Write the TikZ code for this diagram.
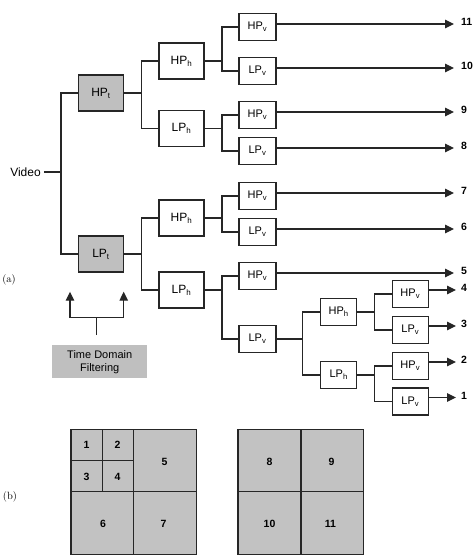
\documentclass[tikz,border=0pt]{standalone}
\usepackage{fontspec}
\setsansfont{Liberation Sans}
\usetikzlibrary{arrows.meta}
\begin{document}
\begin{tikzpicture}[x=1pt,y=-1pt,
  box/.style={draw=black!85, line width=1.15pt, fill=white, minimum width=45pt, minimum height=36pt, inner sep=0pt, font=\sffamily\fontsize{12}{14}\selectfont},
  gbox/.style={box, fill=gray!50},
  sbox/.style={box, minimum width=37pt, minimum height=27pt, font=\sffamily\fontsize{11}{13}\selectfont},
  tbox/.style={box, minimum width=36pt, minimum height=27pt, font=\sffamily\fontsize{11}{13}\selectfont},
  conn/.style={draw=black!85, line width=1.15pt},
  arr/.style={conn, -{Triangle[length=9pt,width=8.5pt]}},
  num/.style={font=\sffamily\bfseries\fontsize{10.5}{12}\selectfont, anchor=west, inner sep=0pt},
  sqnum/.style={font=\sffamily\bfseries\fontsize{10.5}{12}\selectfont, inner sep=0pt},
  sqbox/.style={draw=black!85, line width=1.15pt, fill=gray!48},
  plaintxt/.style={font=\sffamily\fontsize{12}{14}\selectfont, inner sep=0pt},
  captxt/.style={font=\rmfamily\fontsize{10.5}{12}\selectfont, inner sep=0pt}]
\useasboundingbox (0,0) rectangle (474,555);

% captions
\node[captxt] (capa) at (9,280) {(a)};
\node[captxt] (capb) at (10,497) {(b)};

% input
\node[plaintxt] (video) at (25.5,172) {Video};
\coordinate (fv) at (61,172);
\node[gbox] (hpt) at (101,93) {HP\textsubscript{t}};
\node[gbox] (lpt) at (101,254) {LP\textsubscript{t}};
\draw[conn] ([xshift=3pt]video.east) -- (fv);
\draw[conn] (hpt.west) -| (fv) |- (lpt.west);

% horizontal level
\node[box] (hph1) at (181.5,61) {HP\textsubscript{h}};
\node[box] (lph1) at (181.5,128.5) {LP\textsubscript{h}};
\node[box] (hph2) at (181.5,218) {HP\textsubscript{h}};
\node[box] (lph2) at (181.5,290) {LP\textsubscript{h}};
\coordinate (f1) at (141.7,93);
\coordinate (f2) at (141.7,254);
\draw[conn] (hpt.east) -- (f1);
\draw[conn] (hph1.west) -| (f1) |- (lph1.west);
\draw[conn] (lpt.east) -- (f2);
\draw[conn] (hph2.west) -| (f2) |- (lph2.west);

% vertical level
\node[sbox] (v11) at (257.5,27) {HP\textsubscript{v}};
\node[sbox] (v10) at (257.5,71) {LP\textsubscript{v}};
\node[sbox] (v9) at (257.5,115) {HP\textsubscript{v}};
\node[sbox] (v8) at (257.5,151) {LP\textsubscript{v}};
\node[sbox] (v7) at (257.5,196) {HP\textsubscript{v}};
\node[sbox] (v6) at (257.5,232) {LP\textsubscript{v}};
\node[sbox] (v5) at (257.5,276) {HP\textsubscript{v}};
\node[sbox] (vs) at (257.5,339) {LP\textsubscript{v}};
\coordinate (g1) at (222,61);
\coordinate (g2) at (222,128.5);
\coordinate (g3) at (222,218);
\coordinate (g4) at (222,290);
\draw[conn] (hph1.east) -- (g1);
\draw[conn] (v11.west) -| (g1) |- (v10.west);
\draw[conn] (lph1.east) -- (g2);
\draw[conn] (v9.west) -| (g2) |- (v8.west);
\draw[conn] (hph2.east) -- (g3);
\draw[conn] (v7.west) -| (g3) |- (v6.west);
\draw[conn] (lph2.east) -- (g4);
\draw[conn] (v5.west) -| (g4) |- (vs.west);

% outputs of first vertical level
\foreach \n/\y in {11/27,10/71,9/115,8/151,7/196,6/232,5/276}{
  \coordinate (e\n) at (454,\y-3);
  \draw[arr] (v\n.east|-e\n) -- (e\n);
  \node[num] (l\n) at (461,\y-5) {\n};
}

% second decomposition
\node[tbox] (hph3) at (338.7,312) {HP\textsubscript{h}};
\node[tbox] (lph3) at (338.7,375) {LP\textsubscript{h}};
\coordinate (g5) at (302.3,339);
\draw[conn] (vs.east) -- (g5);
\draw[conn] (hph3.west) -| (g5) |- (lph3.west);

\node[tbox] (v4) at (410.3,294) {HP\textsubscript{v}};
\node[tbox] (v3) at (410.3,330) {LP\textsubscript{v}};
\node[tbox] (v2) at (410.3,366) {HP\textsubscript{v}};
\node[tbox] (v1) at (410.3,401.5) {LP\textsubscript{v}};
\coordinate (g6) at (374.3,312);
\coordinate (g7) at (374.3,375);
\draw[conn] (hph3.east) -- (g6);
\draw[conn] (v4.west) -| (g6) |- (v3.west);
\draw[conn] (lph3.east) -- (g7);
\draw[conn] (v2.west) -| (g7) |- (v1.west);
\foreach \n/\y in {4/294,3/330,2/366,1/401.5}{
  \coordinate (e\n) at (456,\y-4);
  \draw[arr] (v\n.east|-e\n) -- (e\n);
  \node[num] (l\n) at (461,\y-6) {\n};
}

% time domain filtering
\node[box, draw=none, fill=gray!50, minimum width=94.7pt, minimum height=33.3pt, align=center, font=\sffamily\fontsize{11}{13}\selectfont] (tdf) at (99.7,361.7) {Time Domain\\Filtering};
\coordinate (tj) at (96.7,317.7);
\coordinate (ta1) at (70,291.7);
\coordinate (ta2) at (123.7,291.7);
\draw[conn] ([yshift=9.3pt]tdf.north -| tj) -- (tj);
\draw[arr] (tj) -| (ta1);
\draw[arr] (tj) -| (ta2);

% (b) subband maps
\draw[sqbox] (71,429.3) rectangle (196.3,554.6);
\draw[conn] (133.7,429.3) -- (133.7,554.6);
\draw[conn] (71,491.7) -- (196.3,491.7);
\draw[conn] (102.3,429.3) -- (102.3,491.7);
\draw[conn] (71,460.7) -- (133.7,460.7);
\draw[sqbox] (238,429.3) rectangle (363.3,554.6);
\draw[conn] (301,429.3) -- (301,554.6);
\draw[conn] (238,491.7) -- (363.3,491.7);
\node[sqnum] (s1) at (86.5,445) {1};
\node[sqnum] (s2) at (117.5,445) {2};
\node[sqnum] (s3) at (86.5,477) {3};
\node[sqnum] (s4) at (117.5,477) {4};
\node[sqnum] (s5) at (164.5,462) {5};
\node[sqnum] (s6) at (103,523.5) {6};
\node[sqnum] (s7) at (163.5,523.5) {7};
\node[sqnum] (s8) at (269.5,462) {8};
\node[sqnum] (s9) at (331.5,462) {9};
\node[sqnum] (s10) at (269.5,523.5) {10};
\node[sqnum] (s11) at (330.5,523.5) {11};
\end{tikzpicture}
\end{document}
